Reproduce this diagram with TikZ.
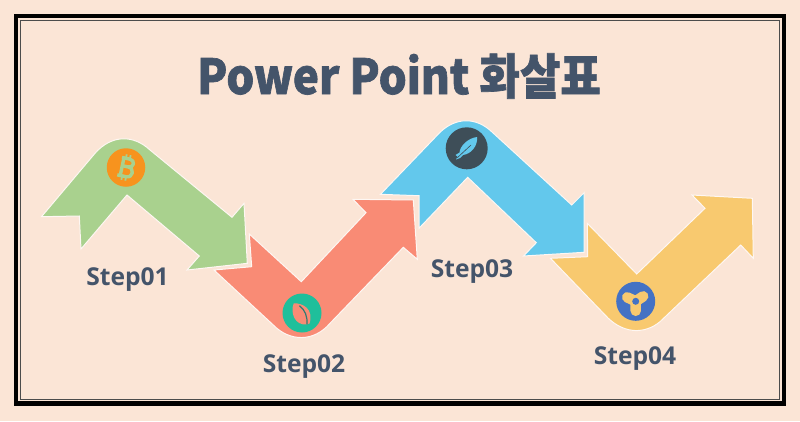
\documentclass[tikz,border=0pt]{standalone}
\usepackage{fontspec}
\setmainfont{Open Sans}
\newfontfamily\titlefont[FakeBold=1.4]{Noto Sans CJK KR Black}
\definecolor{bgc}{HTML}{FBE5D6}
\definecolor{ink}{HTML}{44546A}
\definecolor{grn}{HTML}{A9D18E}
\definecolor{sal}{HTML}{F98B75}
\definecolor{sky}{HTML}{63C8EC}
\definecolor{yel}{HTML}{F8C96F}
\definecolor{coin}{HTML}{F7931E}
\definecolor{leafc}{HTML}{1FBF9B}
\definecolor{slate}{HTML}{3E4E58}
\definecolor{spin}{HTML}{4472C4}
\tikzset{
  bent/.style={draw=white!70!bgc,line width=1pt,line join=miter},
  steplabel/.style={font=\bfseries\fontsize{24.6}{25}\selectfont,text=ink,inner sep=0pt},
  badge/.style={circle,minimum size=#1,inner sep=0pt}
}
\begin{document}
\begin{tikzpicture}[x=1pt,y=-1pt]
\useasboundingbox (0,0) rectangle (800,421);
\fill[bgc] (0,0) rectangle (800,421);
% frame
\draw[black,line width=4.4pt] (16.2,16.2) rectangle (783.8,403.6);
\draw[black!70,line width=1.5pt] (20.5,20.5) rectangle (779.5,399.5);
% title
\node[font=\titlefont\fontsize{44}{44}\selectfont,text=ink,inner sep=0pt,yscale=1.1,transform shape] (title) at (399,76) {Power Point 화살표};
% arrow 1
\path[bent,fill=grn] (41.5,216.7) -- (79.3,216) -- (81,249) -- (127,195) -- (199.3,256) -- (187,270) -- (247.3,263.3) -- (244,203.3) -- (232,217.3) -- (150,150) .. controls (134,135) and (112,134) .. (95,153.3) -- cycle;
% arrow 2
\path[bent,fill=sal] (214,270) -- (251.7,266.7) -- (249.3,234) -- (301.3,281.7) -- (366,212.7) -- (353,199.3) -- (413.3,200) -- (417.3,259.3) -- (403.3,247.3) -- (330,323.3) .. controls (314,342) and (290,342) .. (273.3,325) -- cycle;
% arrow 3
\path[bent,fill=sky] (380.5,194.3) -- (419,195.7) -- (419,228.3) -- (467.7,177.3) -- (536.3,242.7) -- (523.5,256) -- (584,252.3) -- (584,192.7) -- (571.7,205) -- (491.7,131.7) .. controls (476,117) and (456,117) .. (440,132.3) -- cycle;
% arrow 4
\path[bent,fill=yel] (550.5,258.3) -- (587.7,256.7) -- (587.3,223.3) -- (636.7,274) -- (705,208.3) -- (692,195) -- (752.3,198.3) -- (753.3,258.3) -- (740.7,245) -- (660,321.7) .. controls (645,334) and (625,334) .. (608.3,318.3) -- cycle;
% bitcoin badge
\node[badge=38.5pt,fill=coin] (b1) at (126,167.5) {};
\begin{scope}[shift={(126,167.5)},rotate=-12,grn]
  \draw[line width=3.4pt,line join=round] (-6,-9) -- (2,-9) .. controls (8,-9) and (8,-1) .. (2,-1) -- (-4,-1) (2,-1) .. controls (9,-1) and (9,9) .. (2,9) -- (-7,9);
  \draw[line width=3.4pt] (-4,-9) -- (-4,9);
  \draw[line width=1.8pt] (-2,-13) -- (-2,-9) (2,-13) -- (2,-9) (-2,9) -- (-2,13) (2,9) -- (2,13);
\end{scope}
% leaf badge
\node[badge=39pt,fill=leafc] (b2) at (302,313) {};
\fill[sal] (293.7,303.3) .. controls (303,303) and (314,309) .. (309.5,323.5) -- (307,324.3) .. controls (295,326) and (290,313) .. (293.7,303.3) -- cycle;
\draw[slate!60!leafc,line width=1.2pt] (299.5,305.7) .. controls (305,310) and (307.5,316) .. (307,324.3);
% feather badge
\node[badge=42pt,fill=slate] (b3) at (466.7,148.3) {};
\fill[sky] (477,137) .. controls (478,146) and (471,154) .. (463,155) -- (460,158) -- (456,159.5) -- (457.5,156.5) -- (455.5,155) -- (459.5,152.5) .. controls (460,146) and (468,138) .. (477,137) -- cycle;
\draw[slate,line width=.6pt] (457,158) -- (471,145);
% spinner badge
\node[badge=39pt,fill=spin] (b4) at (635.7,301.3) {};
\begin{scope}[shift={(635.7,301.3)}]
  \draw[yel,line width=10.5pt,line cap=round] (0,0) -- (-8.5,-4) (0,0) -- (7.5,-5) (0,0) -- (0,9.5);
  \fill[spin] (0,0) circle (3.5);
\end{scope}
% labels
\node[steplabel] (s1) at (127.5,279.5) {Step01};
\node[steplabel] (s2) at (304,367) {Step02};
\node[steplabel] (s3) at (472,271.5) {Step03};
\node[steplabel] (s4) at (635,358.5) {Step04};
\end{tikzpicture}
\end{document}
